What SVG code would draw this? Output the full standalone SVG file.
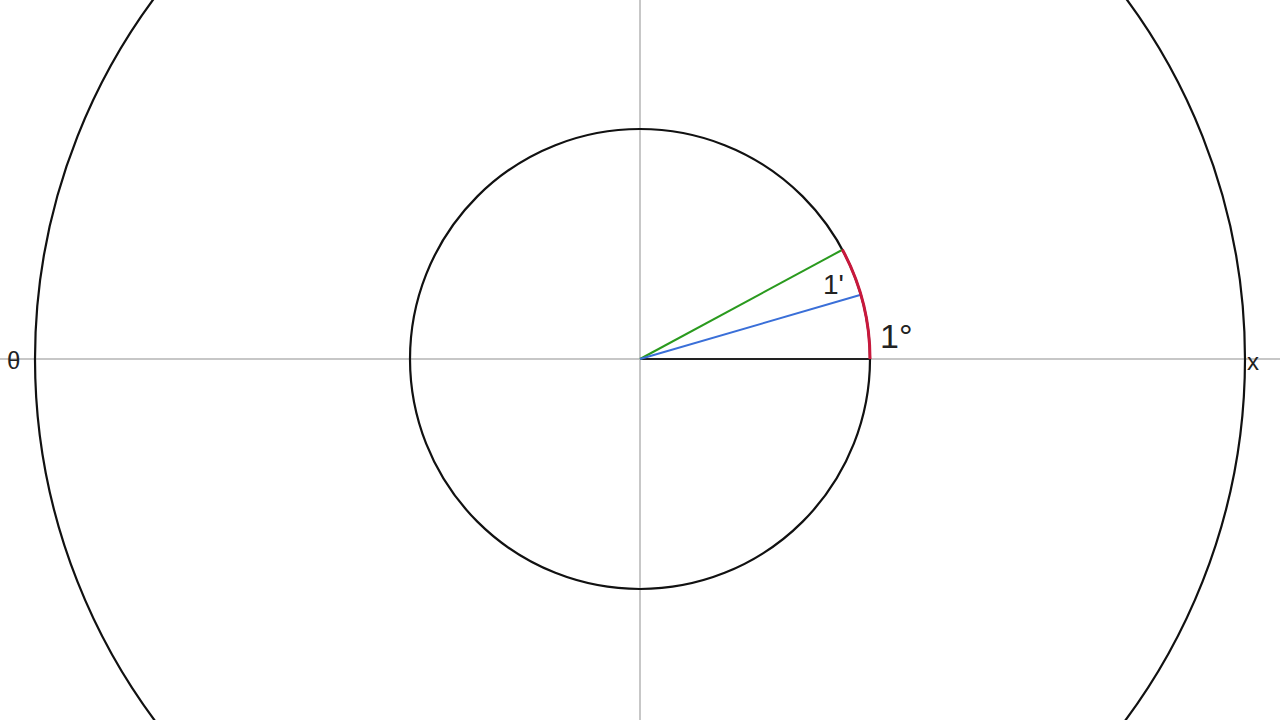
<svg xmlns="http://www.w3.org/2000/svg" width="1280" height="720" viewBox="0 0 1280 720">
<style>
.axis{stroke:#b4b4b4;stroke-width:1.5;fill:none}
.circ{stroke:#111;stroke-width:2.2;fill:none}
.lbl{font-family:"Liberation Sans",Arial,sans-serif;fill:#222}
</style>
<rect width="1280" height="720" fill="#fff"/>
<g id="axes">
<line class="axis" x1="0" y1="359" x2="1280" y2="359"/>
<line class="axis" x1="640" y1="0" x2="640" y2="720"/>
</g>
<g id="outer-circle"><circle class="circ" cx="640" cy="359" r="605"/></g>
<g id="inner-circle"><circle class="circ" cx="640" cy="359" r="230"/></g>
<g id="connectors">
<line x1="640" y1="359" x2="870" y2="359" stroke="#222" stroke-width="2"/>
<line x1="640" y1="359" x2="842" y2="250" stroke="#2a9a1e" stroke-width="2"/>
<line x1="640" y1="359" x2="860" y2="295" stroke="#3a6fd8" stroke-width="2"/>
<path d="M870 359 A230 230 0 0 0 842.3 249.5" stroke="#c8183c" stroke-width="3" fill="none"/>
</g>
<g id="labels">
<text class="lbl" x="880" y="348" font-size="34">1°</text>
<text class="lbl" x="823" y="294" font-size="28">1'</text>
<text class="lbl" x="7" y="369" font-size="24">θ</text>
<text class="lbl" x="1247" y="370" font-size="24">x</text>
</g>
</svg>
